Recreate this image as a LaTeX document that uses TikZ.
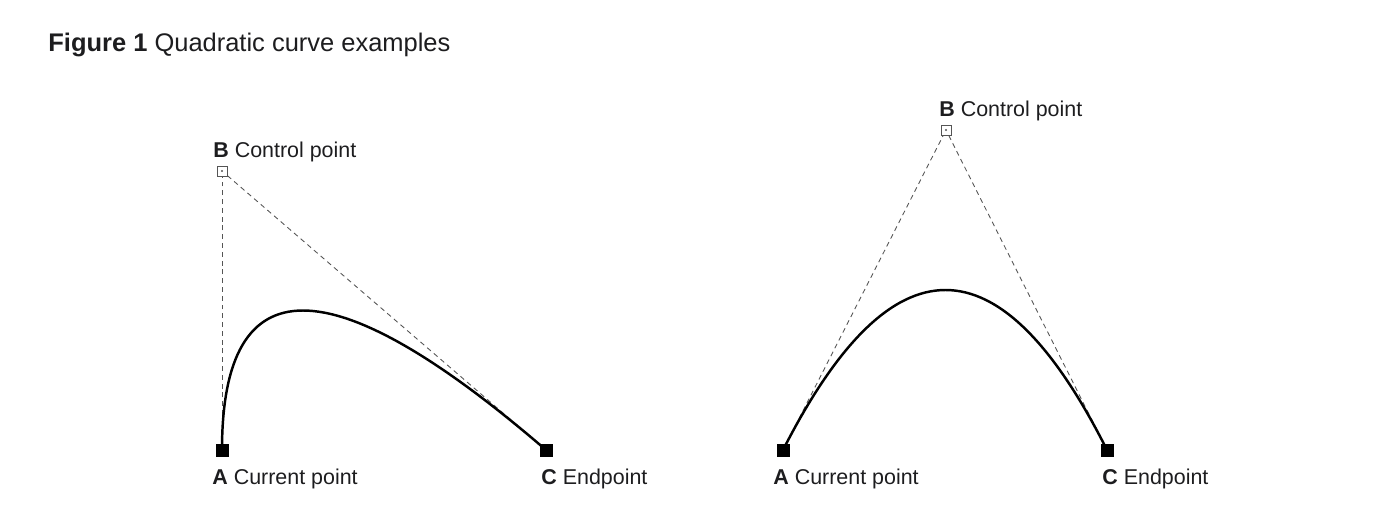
\documentclass[tikz,border=0pt]{standalone}
\usepackage{fontspec}
\setmainfont{Liberation Sans}
\usetikzlibrary{calc}
\definecolor{ink}{RGB}{29,29,31}
\definecolor{guidegray}{RGB}{85,85,85}

\begin{document}
\begin{tikzpicture}[x=0.02cm, y=-0.02cm,
  endpt/.style={draw=black, fill=black, minimum size=0.24cm, inner sep=0pt},
  ctrlpt/.style={draw=guidegray, fill=white, line width=0.5pt, minimum size=0.2cm, inner sep=0pt},
  guide/.style={draw=guidegray, line width=0.5pt, dash pattern=on 2.8pt off 2.2pt},
  curve/.style={draw=black, line width=1.4pt},
  lbl/.style={anchor=base west, inner sep=0pt, text=ink, font=\fontsize{12.2}{14}\selectfont}]
  \useasboundingbox (0,0) rectangle (1400,521);

  % Caption
  \node[anchor=base west, inner sep=0pt, text=ink, font=\fontsize{14.5}{17}\selectfont] (title) at (48,51) {\textbf{Figure 1} Quadratic curve examples};

  % Left example
  \node[endpt] (A1) at (222,450) {};
  \node[ctrlpt] (B1) at (222,171) {};
  \node[endpt] (C1) at (546,450) {};
  \draw[guide] (A1.center) -- (B1);
  \draw[guide] (B1) -- (C1.center);
  \draw[curve] (A1.center) .. controls ($(A1.center)!2/3!(B1.center)$) and ($(C1.center)!2/3!(B1.center)$) .. (C1.center);
  \fill[guidegray] (B1.center) circle (0.6pt);
  \node[lbl] (B1lbl) at (213,157) {\textbf{B} Control point};
  \node[lbl] (A1lbl) at (212,484) {\textbf{A} Current point};
  \node[lbl] (C1lbl) at (541,484) {\textbf{C} Endpoint};

  % Right example
  \node[endpt] (A2) at (783,450) {};
  \node[ctrlpt] (B2) at (946,130) {};
  \node[endpt] (C2) at (1107,450) {};
  \draw[guide] (A2.center) -- (B2);
  \draw[guide] (B2) -- (C2.center);
  \draw[curve] (A2.center) .. controls ($(A2.center)!2/3!(B2.center)$) and ($(C2.center)!2/3!(B2.center)$) .. (C2.center);
  \fill[guidegray] (B2.center) circle (0.6pt);
  \node[lbl] (B2lbl) at (939,116) {\textbf{B} Control point};
  \node[lbl] (A2lbl) at (773,484) {\textbf{A} Current point};
  \node[lbl] (C2lbl) at (1102,484) {\textbf{C} Endpoint};
\end{tikzpicture}
\end{document}
